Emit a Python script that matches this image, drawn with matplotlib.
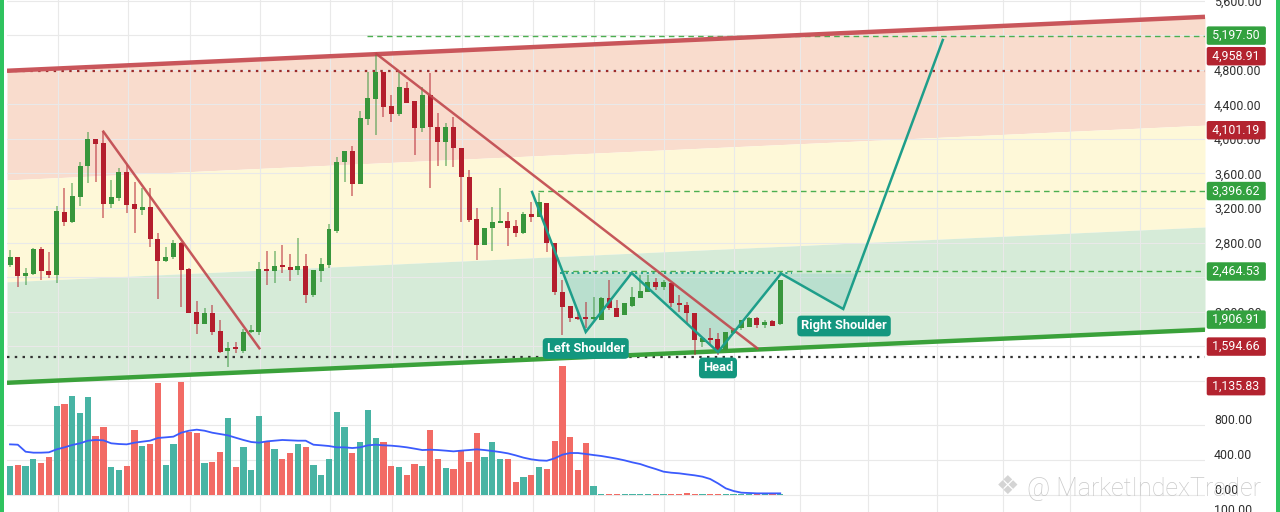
import numpy as np
import matplotlib
matplotlib.use("Agg")
import matplotlib.pyplot as plt
from matplotlib.transforms import ScaledTranslation, blended_transform_factory
from matplotlib.patches import Rectangle

plt.rcParams['font.family'] = ['Roboto', 'DejaVu Sans']

# ---------------- data ----------------
opens = [2540, 2633, 2413, 2436, 2725, 2471, 2424, 3154, 3038, 3328,
         3687, 4000, 3953, 3247, 3316, 3617, 3247, 3177, 3212, 2841,
         2586, 2633, 2795, 2494, 1996, 1856, 1984, 1775, 1544, 1578,
         1544, 1764, 1764, 2494, 2471, 2529, 2517, 2482, 2529, 2192,
         2471, 2540, 2934, 3733, 3861, 3478, 4231, 4463, 4776, 4382,
         4289, 4591, 4440, 4127, 4509, 4139, 3965, 4139, 3895, 3559,
         3073, 2772, 2969, 3027, 3050, 2992, 2911, 3131, 3096, 3258,
         2795, 2227, 2065, 1938, 1938, 1915, 1903, 2158, 2042, 1961,
         2065, 2158, 2227, 2343, 2285, 2331, 2100, 2077, 1984, 1648,
         1694, 1683, 1555, 1752, 1810, 1822, 1926, 1845, 1891, 1856]
highs = [2714, 2633, 2505, 2737, 2749, 2691, 3223, 3432, 3490, 3733,
         4081, 4000, 4081, 3525, 3664, 3698, 3502, 3432, 3432, 2911,
         2749, 2830, 2806, 2505, 2123, 2042, 2077, 1903, 1648, 1648,
         1799, 1845, 2575, 2702, 2702, 2772, 2667, 2853, 2667, 2482,
         2621, 3015, 3791, 3861, 3919, 4324, 4776, 4973, 4776, 4509,
         4776, 4660, 4440, 4602, 4764, 4301, 4185, 4255, 3895, 3641,
         3200, 2969, 3212, 3432, 3154, 3061, 3154, 3270, 3374, 3258,
         2795, 2366, 2065, 1996, 2111, 2169, 2169, 2366, 2134, 2100,
         2285, 2424, 2424, 2389, 2366, 2331, 2192, 2111, 1984, 1694,
         1810, 1752, 1764, 1810, 1903, 1938, 1938, 1903, 1903, 2366]
lows = [2517, 2285, 2308, 2424, 2366, 2389, 2331, 2992, 3027, 3223,
        3490, 3502, 3085, 3200, 3281, 3142, 2911, 3119, 2749, 2146,
        2575, 2609, 2054, 1984, 1741, 1856, 1729, 1521, 1358, 1521,
        1521, 1752, 1729, 2308, 2331, 2447, 2355, 2424, 2100, 2169,
        2343, 2505, 2911, 3502, 3339, 3478, 4162, 4046, 4255, 4197,
        4266, 4417, 3814, 4081, 3432, 3687, 3687, 3675, 3038, 3038,
        2598, 2772, 2702, 3027, 2760, 2865, 2899, 3038, 3096, 2691,
        2192, 1729, 1880, 1903, 1810, 1903, 1903, 2019, 1938, 1961,
        2054, 2158, 2227, 2250, 2250, 2054, 1996, 1868, 1497, 1590,
        1613, 1497, 1544, 1741, 1787, 1822, 1810, 1810, 1833, 1845]
closes = [2633, 2413, 2447, 2725, 2471, 2424, 3166, 3038, 3339, 3687,
          4000, 3942, 3247, 3328, 3617, 3235, 3189, 3212, 2841, 2586,
          2633, 2795, 2482, 1984, 1856, 1984, 1764, 1532, 1578, 1567,
          1764, 1775, 2494, 2471, 2529, 2517, 2482, 2529, 2192, 2482,
          2552, 2957, 3733, 3861, 3478, 4243, 4475, 4776, 4370, 4289,
          4602, 4417, 4127, 4509, 4139, 3965, 4139, 3895, 3559, 3061,
          2772, 2969, 3038, 3038, 2969, 2911, 3131, 3096, 3270, 2795,
          2227, 2054, 1926, 1915, 1915, 1938, 2158, 2042, 1938, 2100,
          2169, 2239, 2343, 2285, 2343, 2100, 2077, 1984, 1671, 1694,
          1671, 1555, 1764, 1787, 1903, 1926, 1845, 1880, 1833, 2366]
volumes = [331, 343, 331, 408, 370, 438, 1017, 1040, 1135, 933,
           1124, 678, 773, 316, 286, 331, 739, 560, 583, 1276,
           343, 583, 1292, 724, 705, 370, 381, 488, 880, 316,
           545, 286, 907, 617, 522, 415, 476, 583, 545, 343,
           225, 415, 945, 777, 476, 606, 968, 655, 606, 331,
           316, 229, 354, 331, 739, 415, 312, 301, 514, 381,
           705, 438, 610, 415, 408, 152, 202, 225, 320, 301,
           621, 1474, 667, 286, 598, 107, 12, 10, 11, 12,
           10, 11, 12, 10, 11, 12, 12, 27, 11, 10,
           12, 11, 10, 11, 12, 10, 11, 12, 11, 10]
volume_ma = [579, 575, 495, 484, 484, 488, 522, 545, 572, 591,
             621, 629, 625, 591, 583, 579, 598, 610, 621, 652,
             659, 667, 712, 735, 747, 735, 712, 697, 682, 655,
             629, 606, 598, 613, 621, 629, 625, 621, 621, 575,
             568, 560, 545, 545, 537, 545, 568, 575, 568, 564,
             556, 545, 530, 514, 518, 514, 507, 499, 507, 514,
             522, 514, 503, 491, 476, 453, 427, 408, 396, 392,
             419, 461, 480, 480, 469, 457, 446, 431, 415, 396,
             373, 354, 324, 297, 267, 255, 248, 236, 225, 210,
             183, 133, 76, 46, 27, 23, 19, 19, 19, 19]

level_values = [5197.50, 4958.91, 4101.19, 3396.62, 2464.53, 1906.91, 1594.66, 1135.83]
level_kinds = ['up', 'down', 'down', 'up', 'up', 'up', 'down', 'down']

channel_x = [-0.39, 153.6]
channel_top = [4790, 5415]
channel_red_floor = [3525, 4160]
channel_yellow_floor = [2345, 2980]
channel_bottom = [1175, 1790]

trend1_x = [12.0, 32.05]
trend1_y = [4085, 1575]
trend2_x = [47.1, 96.05]
trend2_y = [4985, 1575]

hs_x = [67.1, 74.0, 79.9, 91.0, 99.1, 107.1, 119.9]
hs_y = [3386, 1764, 2447, 1532, 2440, 2030, 5147]
neckline = 2447
neck_x = [70.7, 100.5]

dashed_levels = [5197.50, 3396.62, 2464.53]
dashed_start = [45.9, 67.9, 71.1]
red_dotted_level = 4790
black_dotted_level = 1475

pattern_labels = ["Left Shoulder", "Head", "Right Shoulder"]
pattern_label_x = [74.0, 91.0, 107.2]
pattern_label_y = [1573, 1347, 1833]

price_ticks = list(range(1200, 5601, 400))
hidden_price_ticks = [5200, 2400, 1600]
volume_ticks = [0, 400, 800]
grid_x = [6.2, 15.2, 23.1, 32.1, 41.1, 49.1, 58.1, 67.2, 75.1, 84.0, 93.1,
          101.5, 110.3, 119.2, 127.6, 136.2, 145.2]

# ---------------- style ----------------
GREEN = '#38963c'
RED = '#b41e2d'
TEAL = '#1e9e8a'
VOL_UP = '#48b4a4'
VOL_DN = '#f26b65'
TICK_KW = dict(length=0, pad=6.5, labelsize=8.9, labelcolor='#2f2f2f')

fig = plt.figure(figsize=(12.8, 5.12), dpi=100)
fig.patch.set_facecolor('white')
rect = [7 / 1280, 0, 1198 / 1280, 1]
ax = fig.add_axes(rect)
ax.set_xlim(-0.39, 153.6)
ax.set_ylim(-322, 5610)
for s in ax.spines.values():
    s.set_visible(False)

# zones
ax.fill_between(channel_x, channel_red_floor, channel_top, color='#f9dccd', lw=0, zorder=1)
ax.fill_between(channel_x, channel_yellow_floor, channel_red_floor, color='#fef8d8', lw=0, zorder=1)
ax.fill_between(channel_x, channel_bottom, channel_yellow_floor, color='#d6ebd8', lw=0, zorder=1)

# grid / ticks
ax.set_xticks(grid_x)
ax.set_xticklabels([])
ax.tick_params(axis='x', length=0)
ax.set_yticks(price_ticks)
ax.set_yticklabels(["" if v in hidden_price_ticks else f"{v:,.2f}" for v in price_ticks])
ax.yaxis.tick_right()
ax.tick_params(axis='y', **TICK_KW)
ax.grid(True, color='#e9e9e9', lw=0.8, zorder=1.5)

# H&S shading
xs = np.linspace(hs_x[0], hs_x[-1], 1500)
ys = np.interp(xs, hs_x, hs_y)
ax.fill_between(xs, ys, neckline, where=ys < neckline, interpolate=True,
                color='#26a69a', alpha=0.16, lw=0, zorder=2)

# level lines
ax.plot(channel_x, [red_dotted_level] * 2, color='#9b2b2b', lw=1.6,
        linestyle=(0, (1.1, 2.4)), zorder=3)
ax.plot(channel_x, [black_dotted_level] * 2, color='#333333', lw=1.6,
        linestyle=(0, (1.1, 2.4)), zorder=3)
for lv, xs0 in zip(dashed_levels, dashed_start):
    ax.plot([xs0, channel_x[1]], [lv, lv], color='#4caf50', lw=1.0,
            linestyle=(0, (4, 3)), zorder=3)
ax.plot(neck_x, [neckline] * 2, color=TEAL, lw=1.3, linestyle=(0, (1.2, 2.0)), zorder=3)

# channel borders
ax.plot(channel_x, channel_top, color='#c9565b', lw=3.2, solid_capstyle='butt', zorder=3.5)
ax.plot(channel_x, channel_bottom, color='#3aa13a', lw=3.2, solid_capstyle='butt', zorder=3.5)

# trend lines
ax.plot(trend1_x, trend1_y, color='#c0464c', lw=1.8, alpha=0.9, zorder=6)
ax.plot(trend2_x, trend2_y, color='#c0464c', lw=1.8, alpha=0.9, zorder=6)

# candles
o = np.array(opens, float)
c = np.array(closes, float)
h = np.array(highs, float)
l = np.array(lows, float)
j = np.arange(len(o))
up = c >= o
body_cols = [GREEN if u else RED for u in up]
wick_cols = [(0.22, 0.59, 0.24, 0.5) if u else (0.71, 0.12, 0.18, 0.5) for u in up]
ax.vlines(j, l, h, colors=wick_cols, lw=1.4, zorder=4)
ax.bar(j, np.maximum(np.abs(c - o), 18), bottom=np.minimum(o, c), width=0.64,
       color=body_cols, lw=0, zorder=5)

# H&S path
ax.plot(hs_x, hs_y, color=TEAL, lw=1.8, zorder=7, solid_joinstyle='miter')

# pattern labels
for txt, lx, ly in zip(pattern_labels, pattern_label_x, pattern_label_y):
    ax.text(lx, ly, txt, ha='center', va='center', fontsize=9.3, fontweight='bold',
            color='white', zorder=9,
            bbox=dict(boxstyle='round,pad=0.3,rounding_size=0.3', fc='#13977f', ec='none'))

# level labels on the axis
btrans = blended_transform_factory(ax.transAxes, ax.transData)
for lv, kind in zip(level_values, level_kinds):
    ax.text(1.0037, lv, f" {lv:,.2f} ", transform=btrans, ha='left', va='center',
            fontsize=8.9, color='white', clip_on=False, zorder=10,
            bbox=dict(boxstyle='round,pad=0.22,rounding_size=0.15',
                      fc='#33a13f' if kind == 'up' else '#b3232f', ec='none'))

# volume (separate overlay axes sharing x)
ax2 = fig.add_axes(rect, sharex=ax)
ax2.patch.set_visible(False)
ax2.set_ylim(-194, 5657)
for s in ax2.spines.values():
    s.set_visible(False)
vcols = [VOL_UP if u else VOL_DN for u in up]
ax2.bar(j, volumes, width=0.8, color=vcols, lw=0, zorder=2)
ax2.plot(j, volume_ma, color='#3b5bfd', lw=1.3, zorder=3)
ax2.tick_params(axis='x', length=0, labelbottom=False)
ax2.set_yticks(volume_ticks)
ax2.set_yticklabels([f"{v:,.2f}" for v in volume_ticks])
ax2.yaxis.tick_right()
ax2.tick_params(axis='y', **TICK_KW)
ax2.grid(True, axis='y', color='#e9e9e9', lw=0.8)
offset = ScaledTranslation(0, 6 / 100, fig.dpi_scale_trans)
for lab in ax2.get_yticklabels():
    lab.set_transform(lab.get_transform() + offset)

fig.text(1214 / 1280, 1 - 510 / 512, "100.00", fontsize=8.9, color='#2f2f2f',
         ha='left', va='center')

# watermark
fig.text(1008 / 1280, 1 - 487 / 512, "❖", family=['DejaVu Sans'], fontsize=19,
         color='#d4d4d4', ha='center', va='center')
fig.text(1027 / 1280, 1 - 496 / 512, "@ MarketIndexTrader", fontsize=18,
         fontweight='light', color='#c9c9c9', ha='left', va='baseline')

# frame borders
fig.add_artist(Rectangle((0, 0), 4 / 1280, 1, transform=fig.transFigure,
                         color='#2fc35f', lw=0))
fig.add_artist(Rectangle((1276 / 1280, 0), 4 / 1280, 1, transform=fig.transFigure,
                         color='#2fc35f', lw=0))

fig.savefig('out.png', dpi=100)
